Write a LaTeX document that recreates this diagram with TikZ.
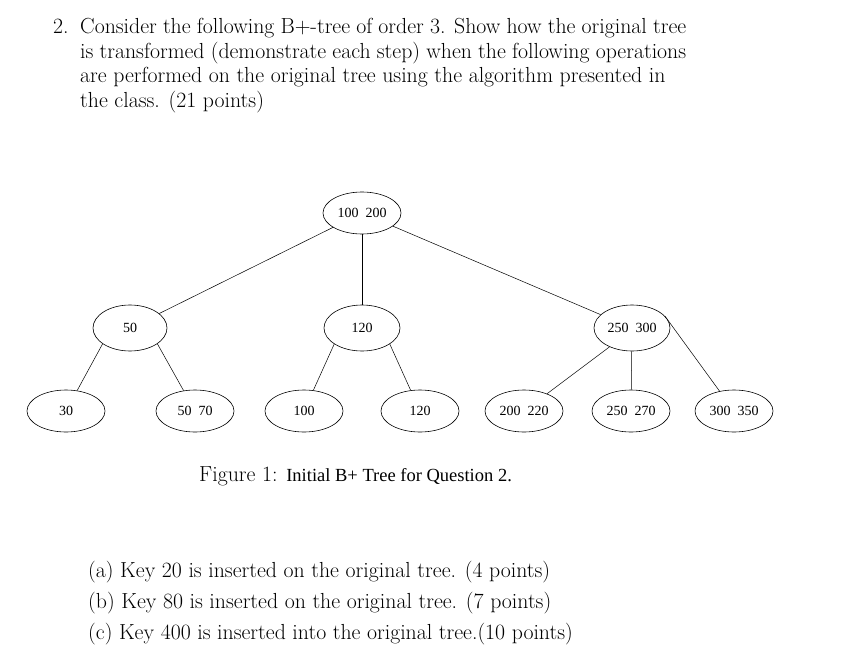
\documentclass[tikz,border=0pt]{standalone}
\usepackage{fontspec}
\newfontfamily\tnrfont{Liberation Serif}
\usetikzlibrary{shapes.geometric}
\begin{document}
\begin{tikzpicture}[x=1pt,y=-1pt,
  key/.style={ellipse,draw,line width=0.6pt,minimum width=78pt,minimum height=42pt,inner sep=0pt,font=\tnrfont\fontsize{14}{16}\selectfont},
  edge/.style={line width=0.5pt},
  body/.style={font=\fontsize{21.8}{24.5}\selectfont,inner sep=0pt,anchor=base west}]
\useasboundingbox[fill=white] (0,0) rectangle (842,671);
\node[body] (num) at (53,34) {2.};
\node[body,text width=606pt,align=justify] (l1q) at (80,34) {Consider the following B+-tree of order 3. Show how the original tree};
\node[body,text width=606pt,align=justify] (l2q) at (80,58.5) {is transformed (demonstrate each step) when the following operations};
\node[body,text width=606pt,align=justify] (l3q) at (80,83) {are performed on the original tree using the algorithm presented in};
\node[body] (l4q) at (80,107.5) {the class. (21 points)};
\node[key] (r) at (362,213) {100\hspace{7pt}200};
\node[key,minimum width=74pt,minimum height=46pt] (a) at (130,328) {50};
\node[key,minimum width=76pt,minimum height=46pt] (b) at (362,328) {120};
\node[key,minimum width=76pt,minimum height=46pt] (c) at (632,328) {250\hspace{7pt}300};
\node[key] (l1) at (66,411) {30};
\node[key] (l2) at (195,411) {50\hspace{7pt}70};
\node[key] (l3) at (304,411) {100};
\node[key] (l4) at (420,411) {120};
\node[key] (l5) at (524,411) {200\hspace{7pt}220};
\node[key] (l6) at (631,411) {250\hspace{7pt}270};
\node[key] (l7) at (734,411) {300\hspace{7pt}350};
\draw[edge] (r) -- (a);
\draw[edge] (r) -- (b);
\draw[edge] (r) -- (c);
\draw[edge] (a.210) -- (l1);
\draw[edge] (a.330) -- (l2);
\draw[edge] (b.210) -- (l3);
\draw[edge] (b.330) -- (l4);
\draw[edge] (c.220) -- (l5);
\draw[edge] (c) -- (l6);
\draw[edge] (c.20) -- (l7);
\node[body] (cap) at (199,481) {Figure 1: {\tnrfont\fontsize{18.5}{20}\selectfont Initial B+ Tree for Question 2.}};
\node[body] (ia) at (88,577) {(a) Key 20 is inserted on the original tree. (4 points)};
\node[body] (ib) at (88,608) {(b) Key 80 is inserted on the original tree. (7 points)};
\node[body] (ic) at (88,639) {(c) Key 400 is inserted into the original tree.(10 points)};
\end{tikzpicture}
\end{document}
